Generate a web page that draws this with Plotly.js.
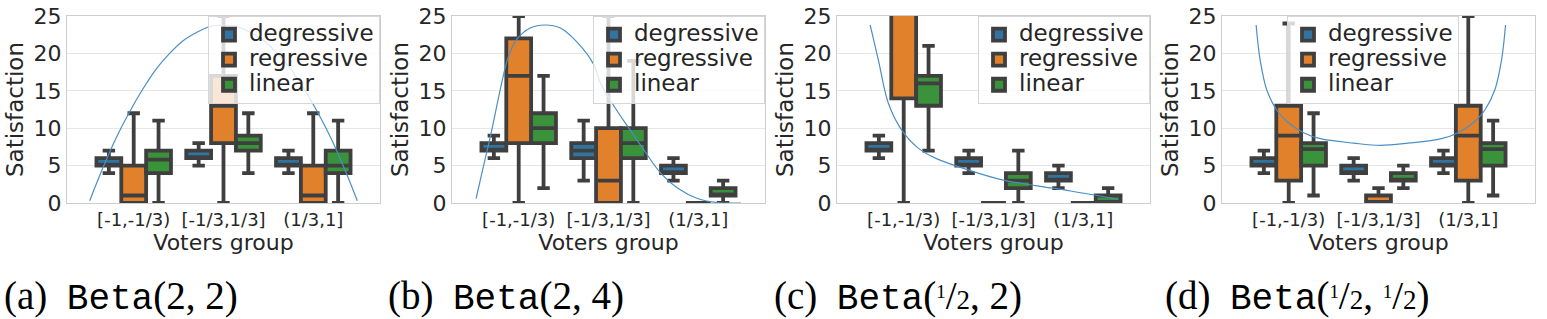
<!DOCTYPE html>
<html><head><meta charset="utf-8">
<script src="https://cdn.plot.ly/plotly-3.0.1.min.js"></script>
<style>html,body{margin:0;padding:0;background:#fff}#chart{width:1547px;height:319px}</style>
</head><body><div id="chart"></div>
<script>
const categories = ['[-1,-1/3)', '[-1/3,1/3]', '(1/3,1]'];
const seriesNames = ['degressive', 'regressive', 'linear'];
const yTicks = [0, 5, 10, 15, 20, 25];
const half = '<span style="font-size:27px"><sup>1</sup></span>/<span style="font-size:27px">2</span>';
const mono = '<span style="font-family:Liberation Mono;font-size:36px">Beta</span>';
const panelCaptions = [
  '(a)&nbsp; ' + mono + '(2, 2)',
  '(b)&nbsp; ' + mono + '(2, 4)',
  '(c)&nbsp; ' + mono + '(' + half + ', 2)',
  '(d)&nbsp; ' + mono + '(' + half + ', ' + half + ')'
];

// per voters group: [lower whisker, q1, median, q3, upper whisker]
const beta22_degressive = [[4, 5, 5, 6, 7], [5, 6, 6, 7, 8], [4, 5, 5, 6, 7]];
const beta22_regressive = [[0, 0, 1, 5, 12], [0, 8, 13, 17, 25], [0, 0, 1, 5, 12]];
const beta22_linear     = [[0, 4, 5.8, 7, 11], [4, 7, 8, 9, 12], [0, 4, 5, 7, 11]];

const beta24_degressive = [[6, 7, 7, 8, 9], [3, 6, 7, 8, 11], [3, 4, 4, 5, 6]];
const beta24_regressive = [[0, 8, 17, 22, 25], [0, 0, 3, 10, 25], [0, 0, 0, 0, 0]];
const beta24_linear     = [[2, 8, 10, 12, 17], [0, 6, 8, 10, 19], [0, 1, 1, 2, 3]];

const beta052_degressive = [[6, 7, 7, 8, 9], [4, 5, 5, 6, 7], [2, 3, 3, 4, 5]];
const beta052_regressive = [[0, 14, 28, 32, 40], [0, 0, 0, 0, 0], [0, 0, 0, 0, 0]];
const beta052_linear     = [[7, 13, 16, 17, 21], [0, 2, 3, 4, 7], [0, 0, 0, 1, 2]];

const beta0505_degressive = [[4, 5, 5, 6, 7], [3, 4, 4, 5, 6], [4, 5, 5, 6, 7]];
const beta0505_regressive = [[0, 3, 9, 13, 24], [0, 0, 0, 1, 2], [0, 3, 9, 13, 25]];
const beta0505_linear     = [[1, 5, 7.2, 8, 12], [2, 3, 3, 4, 5], [1, 5, 7.2, 8, 11]];

// density curves (x in voters-group axis units, y in satisfaction units)
const curve22_x = [-0.49, -0.35, -0.2, -0.05, 0.1, 0.25, 0.4, 0.55, 0.7, 0.85, 1.0, 1.15, 1.3, 1.45, 1.6, 1.75, 1.9, 2.05, 2.2, 2.35, 2.49];
const curve22_y = [0.3, 4.5, 8.6, 12.1, 15.2, 17.9, 20.0, 21.7, 22.8, 23.6, 23.8, 23.6, 22.8, 21.7, 20.0, 17.9, 15.2, 12.1, 8.6, 4.5, 0.3];
const curve24_x = [-0.475, -0.393, -0.299, -0.207, -0.114, -0.02, 0.128, 0.296, 0.464, 0.65, 0.836, 0.911, 1.059, 1.209, 1.394, 1.581, 1.768, 1.991, 2.215, 2.475];
const curve24_y = [0.6, 4.9, 9.8, 15.1, 19.6, 21.9, 23.4, 23.8, 23.4, 21.5, 18.5, 16.0, 13.0, 10.3, 7.1, 4.0, 2.0, 0.6, 0.05, 0];
const curve052_x = [-0.374, -0.282, -0.17, -0.02, 0.165, 0.352, 0.724, 1.097, 1.488, 1.86, 2.382];
const curve052_y = [23.8, 19.1, 13.3, 9.7, 7.3, 6.0, 4.4, 3.1, 2.3, 1.6, 0.5];
const curve0505_x = [-0.363, -0.318, -0.244, -0.132, -0.02, 0.165, 0.352, 0.724, 1.022, 1.33, 1.70, 1.886, 2.072, 2.183, 2.295, 2.37, 2.415];
const curve0505_y = [23.8, 19.1, 15.1, 12.4, 10.9, 9.4, 8.6, 8.0, 7.7, 8.0, 8.6, 9.4, 10.9, 12.4, 15.1, 19.1, 23.8];

const panels = [
  {series: [beta22_degressive, beta22_regressive, beta22_linear], cx: curve22_x, cy: curve22_y},
  {series: [beta24_degressive, beta24_regressive, beta24_linear], cx: curve24_x, cy: curve24_y},
  {series: [beta052_degressive, beta052_regressive, beta052_linear], cx: curve052_x, cy: curve052_y},
  {series: [beta0505_degressive, beta0505_regressive, beta0505_linear], cx: curve0505_x, cy: curve0505_y}
];

const W = 1547, H = 319;
const fills = ['#3274a1', '#e1812c', '#3a923a'];
const edge = '#3f3f3f';
const textColor = '#262626';
const plotLeft = [67, 452, 837, 1222];
const plotWidth = 313;
const yDom = [(H - 203) / H, (H - 16) / H];
const catRange = [-0.743, 2.743];
const legendPos = [
  {x: 380 / W, xanchor: 'right'},
  {x: 765 / W, xanchor: 'right'},
  {x: 1150 / W, xanchor: 'right'},
  {x: 1287 / W, xanchor: 'left'}
];
const captionX = [2, 386, 772, 1163];

const traces = [];
const layout = {
  width: W, height: H,
  margin: {l: 0, r: 0, t: 0, b: 0},
  paper_bgcolor: '#fff', plot_bgcolor: '#fff',
  boxmode: 'group', boxgap: 0.17, boxgroupgap: 0,
  font: {family: 'DejaVu Sans', color: textColor},
  showlegend: true,
  annotations: []
};

panels.forEach((p, i) => {
  const n = i === 0 ? '' : String(i + 1);
  const on = String(i + 5);
  const legendId = i === 0 ? 'legend' : 'legend' + (i + 1);
  p.series.forEach((s, k) => {
    traces.push({
      type: 'box',
      name: '<span style="font-size:23px">' + seriesNames[k] + '</span>',
      x: categories,
      lowerfence: s.map(r => r[0]),
      q1: s.map(r => r[1]),
      median: s.map(r => r[2]),
      q3: s.map(r => r[3]),
      upperfence: s.map(r => r[4]),
      boxpoints: false,
      fillcolor: fills[k],
      line: {color: edge, width: 3.8},
      whiskerwidth: 0.5,
      alignmentgroup: 'panel' + i,
      offsetgroup: seriesNames[k],
      xaxis: 'x' + n, yaxis: 'y' + n,
      legend: legendId,
      hoverinfo: 'skip'
    });
  });
  traces.push({
    type: 'scatter', mode: 'lines',
    x: p.cx, y: p.cy,
    line: {color: '#4a8fc6', width: 1.2, shape: 'spline', smoothing: 1},
    xaxis: 'x' + on, yaxis: 'y' + n,
    showlegend: false, hoverinfo: 'skip'
  });
  const dom = [plotLeft[i] / W, (plotLeft[i] + plotWidth) / W];
  layout['xaxis' + n] = {
    domain: dom, anchor: 'y' + n, type: 'category', range: catRange,
    showgrid: false, zeroline: false, ticks: '',
    showline: true, mirror: true, linecolor: '#cdcdcd', linewidth: 1,
    tickfont: {size: 18, color: textColor},
    title: {text: 'Voters group', font: {size: 22, color: textColor}, standoff: 4},
    fixedrange: true
  };
  layout['xaxis' + on] = {
    overlaying: 'x' + n, anchor: 'y' + n, type: 'linear', range: catRange,
    visible: false, fixedrange: true
  };
  layout['yaxis' + n] = {
    domain: yDom, anchor: 'x' + n, range: [0, 25],
    tickmode: 'array', tickvals: yTicks, ticktext: yTicks.map(String),
    showgrid: true, gridcolor: '#e6e6e6', gridwidth: 1, zeroline: false, ticks: '',
    showline: true, mirror: true, linecolor: '#cdcdcd', linewidth: 1,
    tickfont: {size: 22, color: textColor},
    title: {text: 'Satisfaction', font: {size: 23, color: textColor}, standoff: 3},
    fixedrange: true
  };
  layout[legendId] = {
    x: legendPos[i].x, xanchor: legendPos[i].xanchor,
    y: (H - 16) / H, yanchor: 'top',
    bgcolor: 'rgba(255,255,255,0.8)', bordercolor: '#d6d6d6', borderwidth: 1,
    font: {size: 17, color: textColor},
    tracegroupgap: 0, itemwidth: 30
  };
  layout.annotations.push({
    xref: 'paper', yref: 'paper', x: captionX[i] / W, y: (H - 297) / H,
    xanchor: 'left', yanchor: 'middle', showarrow: false,
    text: panelCaptions[i],
    font: {family: 'Liberation Serif', size: 39, color: '#000'}
  });
});

Plotly.newPlot('chart', traces, layout, {staticPlot: true, displayModeBar: false});
</script></body></html>
